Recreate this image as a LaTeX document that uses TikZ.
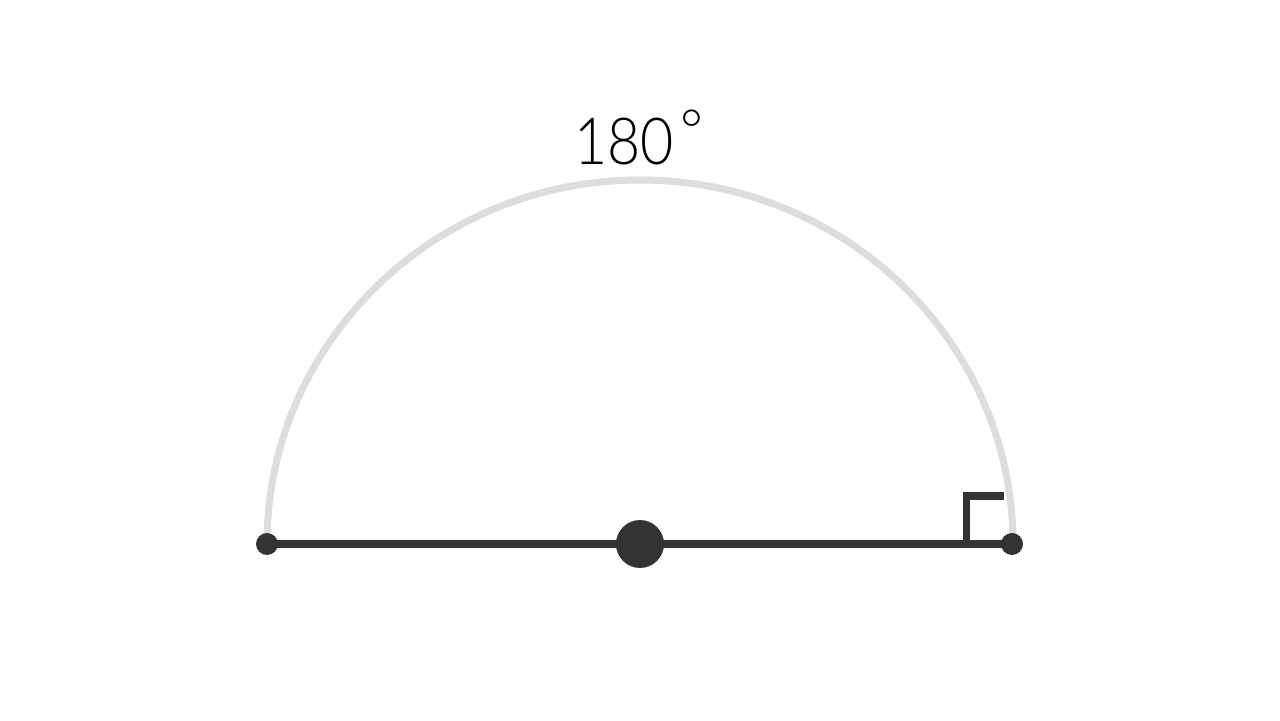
\documentclass[tikz,border=0pt]{standalone}
\usepackage{fontspec}
\newfontfamily\labelfont{Lato Light}
\usetikzlibrary{calc}
\definecolor{darkline}{HTML}{333333}
\definecolor{arcgray}{HTML}{DDDDDD}
\tikzset{
  enddot/.style={circle,fill=darkline,inner sep=0pt,minimum size=0.44cm},
  middot/.style={circle,fill=darkline,inner sep=0pt,minimum size=0.96cm},
}

\begin{document}
\begin{tikzpicture}[x=0.02cm,y=0.02cm]
\useasboundingbox (0,0) rectangle (1280,720);
\coordinate (O) at (640,176);
% the half turn
\draw[arcgray, line width=4pt] (267,176) arc[start angle=180, end angle=0, x radius=373, y radius=364];
% the straight line
\node[enddot] (A) at (267,176) {};
\node[enddot] (B) at (1012,176) {};
\draw[darkline, line width=4.5pt] (A.center)--(B.center);
\node[middot] (M) at (O) {};
% right angle mark
\coordinate (R1) at (966,176);
\coordinate (R2) at (966,224);
\coordinate (R3) at (1004,224);
\draw[darkline, line width=4pt] (R1)--(R2)--(R3);
\node[anchor=base, inner sep=0pt, font=\labelfont\fontsize{37}{40}\selectfont] (T) at (639,555) {\scalebox{0.88}[1]{180}\hspace{4pt}\raisebox{9pt}{\scalebox{0.85}{°}}};
\end{tikzpicture}
\end{document}
